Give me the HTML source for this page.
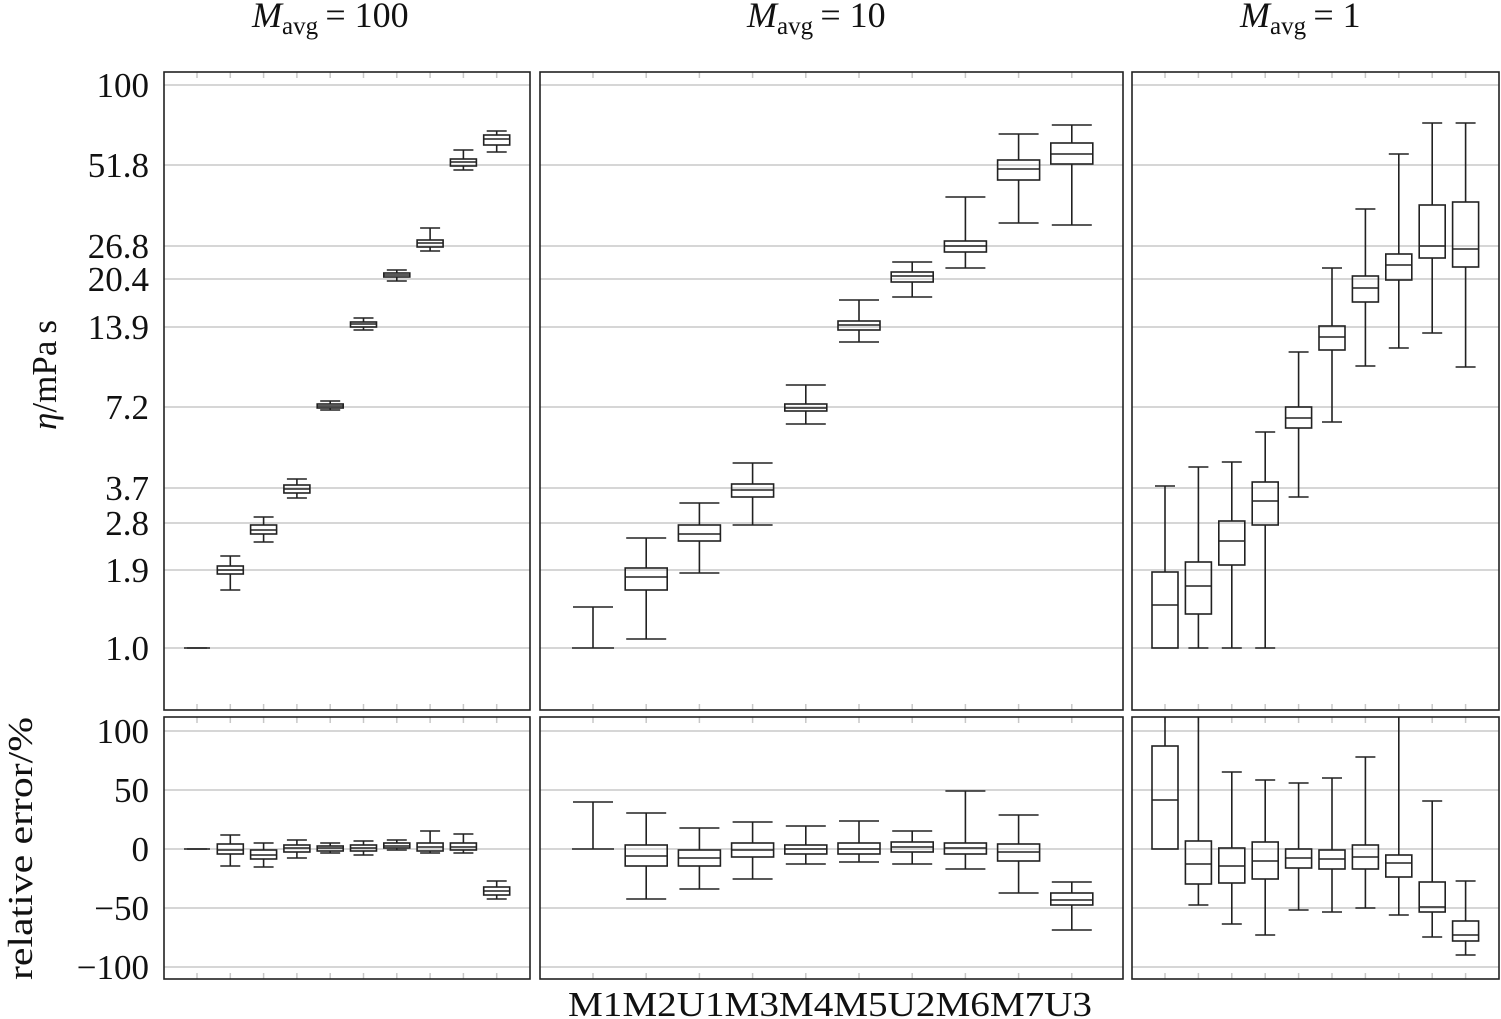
<!DOCTYPE html>
<html><head><meta charset="utf-8"><style>body{margin:0;background:#fff}svg{display:block}text{font-family:"Liberation Serif",serif;fill:#111}</style></head>
<body>
<svg id="s" width="1501" height="1019" viewBox="0 0 1501 1019" xmlns="http://www.w3.org/2000/svg"></svg>
<script>
(function(){
var s=document.getElementById('s');var h='';
var P=[{x0:164,x1:530,c0:197,d:33.3,w:26,cw:20},{x0:540,x1:1123,c0:593,d:53.2,w:42,cw:40},{x0:1132,x1:1499,c0:1165,d:33.4,w:26,cw:20}];
var TD=[[[648,648,648,648,648],[556,566,570,574,590],[517,525,530,534,542],[479,485,489,493,498],[401,404,406,408,410],[318,322,324,327,330],[270,273,275,277,281],[228,240,243,247,251],[150,159,162,166,170],[131,135,139,145,152]],
[[607,648,648,648,648],[538,568,577,590,639],[503,525,534,541,573],[463,484,490,497,525],[385,404,408,411,424],[300,321,325,330,342],[262,272,276,282,297],[197,241,246,252,268],[134,160,169,180,223],[125,143,154,164,225]],
[[486,572,605,648,648],[467,562,586,614,648],[462,521,541,565,648],[432,482,501,525,648],[352,407,418,428,497],[268,326,337,350,422],[209,276,288,302,366],[154,254,265,280,348],[123,205,246,258,333],[123,202,249,267,367]]];
var BD=[[[849,849,849,849,849],[835,844,850,854,866],[843,850,855,859,867],[840,845,848,852,858],[843,846,848,851,853],[841,845,848,851,855],[840,843,846,848,850],[831,843,847,851,853],[834,843,847,850,853],[881,887,891,895,899]],
[[802,849,849,849,849],[813,845,856,866,899],[828,850,858,866,889],[822,843,850,857,879],[826,845,849,854,864],[821,843,849,854,862],[831,842,847,852,864],[791,843,848,854,869],[815,844,852,861,893],[882,893,900,905,930]],
[[717,746,800,849,849],[717,841,864,884,905],[772,848,866,883,924],[780,842,861,879,935],[783,849,858,868,910],[778,850,859,869,912],[757,845,857,869,908],[717,855,863,877,915],[801,882,907,912,937],[881,921,935,941,955]]];
function L(a,b,c,d,st){h+='<line x1="'+a+'" y1="'+b+'" x2="'+c+'" y2="'+d+'" '+st+'/>';}
var G='stroke="#c8c8c8" stroke-width="1.5"',K='stroke="#222" stroke-width="1.6"';
function panel(p,y0,y1,grid,data){
 grid.forEach(function(g){L(p.x0,g,p.x1,g,G);});
 for(var i=0;i<10;i++){var x=p.c0+i*p.d;L(x,y0,x,y0+6,G);L(x,y1-6,x,y1,G);}
 data.forEach(function(b,i){var x=p.c0+i*p.d;var lo=b[0],q1=b[1],m=b[2],q3=b[3],hi=b[4];
  L(x,lo,x,q1,K);L(x,q3,x,hi,K);
  if(lo>y0+1)L(x-p.cw/2,lo,x+p.cw/2,lo,K);
  if(hi<y1-1&&hi>q3)L(x-p.cw/2,hi,x+p.cw/2,hi,K);
  if(q3-q1<1){L(x-p.w/2,q1,x+p.w/2,q1,K);}
  else{h+='<rect x="'+(x-p.w/2)+'" y="'+q1+'" width="'+p.w+'" height="'+(q3-q1)+'" fill="none" '+K+'/>';L(x-p.w/2,m,x+p.w/2,m,K);}
 });
 h+='<rect x="'+p.x0+'" y="'+y0+'" width="'+(p.x1-p.x0)+'" height="'+(y1-y0)+'" fill="none" stroke="#222" stroke-width="1.6"/>';
}
var tg=[85,165,246,279,327,407,488,523,570,648],bg=[731,790,849,908,967];
P.forEach(function(p,k){panel(p,72,710,tg,TD[k]);panel(p,717,979,bg,BD[k]);});
var tl=['100','51.8','26.8','20.4','13.9','7.2','3.7','2.8','1.9','1.0'];
tl.forEach(function(t,i){h+='<text x="149" y="'+(tg[i]+12)+'" font-size="35" text-anchor="end">'+t+'</text>';});
['100','50','0','\u221250','\u2212100'].forEach(function(t,i){h+='<text x="149" y="'+(bg[i]+12)+'" font-size="35" text-anchor="end">'+t+'</text>';});
[['100',252,190],['10',747,170],['1',1240,150]].forEach(function(a){h+='<text x="'+a[1]+'" y="27" font-size="36"><tspan font-style="italic">M</tspan><tspan font-size="25" dy="7">avg</tspan><tspan dy="-7" font-size="36">\u2009= '+a[0]+'</tspan></text>';});
h+='<text x="568" y="1016" font-size="35" textLength="524" lengthAdjust="spacingAndGlyphs">M1M2U1M3M4M5U2M6M7U3</text>';
h+='<text transform="translate(56,375) rotate(-90)" font-size="35" text-anchor="middle"><tspan font-style="italic">\u03b7</tspan>/mPa\u2009s</text>';
h+='<text transform="translate(32,980) rotate(-90)" font-size="35" textLength="263" lengthAdjust="spacingAndGlyphs">relative error/%</text>';
s.innerHTML=h;
})();
</script>
</body></html>
